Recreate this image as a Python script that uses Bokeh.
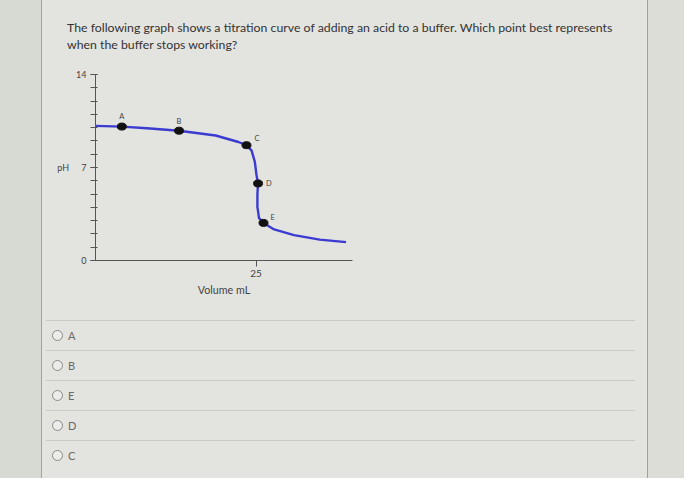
from bokeh.plotting import figure
from bokeh.models import Range1d, FixedTicker, Div
from bokeh.layouts import row, column
from bokeh.core.properties import value
from bokeh.embed import file_html
from bokeh.resources import INLINE

# ---- data ----
question_lines = [
    "The following graph shows a titration curve of adding an acid to a buffer. Which point best represents",
    "when the buffer stops working?",
]
curve_volume = [0.0, 4.1, 8.0, 13.0, 15.7, 18.7, 22.25, 23.5, 24.3, 24.8, 25.05, 25.3,
                25.2, 25.2, 25.45, 26.15, 27.8, 30.9, 34.9, 39.0]
curve_ph = [10.13, 10.08, 9.95, 9.77, 9.60, 9.41, 8.92, 8.68, 8.27, 7.42, 6.46, 5.80,
            5.0, 4.04, 3.19, 2.83, 2.34, 1.91, 1.57, 1.38]
point_names = ["A", "B", "C", "D", "E"]
point_volume = [4.1, 13.0, 23.5, 25.3, 26.15]
point_ph = [10.08, 9.77, 8.68, 5.80, 2.83]
y_major_ticks = [0, 7, 14]
y_minor_ticks = list(range(0, 15))
x_ticks = [25]
answer_options = ["A", "B", "E", "D", "C"]

# ---- styles ----
PANEL = "#e3e3e0"
SIDE = "#d7d9d3"
FONT = "Lato"
W, H = 684, 478
LEFT_W, RIGHT_W = 42, 37
MID_W = W - LEFT_W - RIGHT_W
HEADER_H, CHART_H = 60, 240
OPT_H = H - HEADER_H - CHART_H

left_strip = Div(text="", width=LEFT_W, height=H, margin=0,
                 styles={"background-color": SIDE, "border-right": "1px solid #a2a2a0",
                         "box-sizing": "border-box"})
right_strip = Div(text="", width=RIGHT_W, height=H, margin=0,
                  styles={"background-color": "#dcddd7", "border-left": "1px solid #a2a2a0",
                          "box-sizing": "border-box"})

header = Div(
    text=("<div style=\"padding:20px 0 0 25px; font-family:Lato; font-size:12.3px; "
          "line-height:16.5px; color:#333; white-space:nowrap;\">"
          + "<br>".join(question_lines) + "</div>"),
    width=MID_W, height=HEADER_H, margin=0,
    styles={"background-color": PANEL, "overflow": "hidden"})

# ---- titration chart ----
p = figure(width=MID_W, height=CHART_H, title=None, output_backend="svg", toolbar_location=None,
           x_range=Range1d(0, 40), y_range=Range1d(0, 14),
           min_border_left=53, min_border_right=MID_W - 53 - 257,
           min_border_top=14, min_border_bottom=CHART_H - 14 - 186)
p.background_fill_color = PANEL
p.border_fill_color = PANEL
p.outline_line_color = None
p.xgrid.visible = False
p.ygrid.visible = False

p.line(curve_volume, curve_ph, line_color="#3b3bd1", line_width=2.4)
p.ellipse(point_volume, point_ph, width=9, height=7, width_units="screen",
          height_units="screen", color="#111111")

label_dx = [0, 0, 8, 8, 7]
label_dy = [-10, -9, -7, 0, -5]
label_align = ["center", "center", "left", "left", "left"]
p.text(x=point_volume, y=point_ph, text=point_names, x_offset=label_dx, y_offset=label_dy,
       text_align=label_align, text_baseline="middle", text_font=value(FONT),
       text_font_size="7.5px", text_color="#444444")

xa = p.xaxis[0]
xa.ticker = FixedTicker(ticks=x_ticks, minor_ticks=[])
xa.axis_label = "Volume mL"
xa.axis_label_text_font = FONT
xa.axis_label_text_font_style = "normal"
xa.axis_label_text_font_size = "10.7px"
xa.axis_label_text_color = "#444444"
xa.axis_label_standoff = 3
xa.major_label_text_font = FONT
xa.major_label_text_font_size = "10px"
xa.major_label_text_color = "#444444"
xa.major_label_standoff = 3
xa.major_tick_out = 6
xa.major_tick_in = 0
xa.axis_line_color = "#555555"
xa.major_tick_line_color = "#555555"

ya = p.yaxis[0]
ya.ticker = FixedTicker(ticks=y_major_ticks, minor_ticks=y_minor_ticks)
ya.axis_label = "pH"
ya.axis_label_orientation = "horizontal"
ya.axis_label_text_font = FONT
ya.axis_label_text_font_style = "normal"
ya.axis_label_text_font_size = "9px"
ya.axis_label_text_color = "#444444"
ya.axis_label_standoff = 4
ya.major_label_text_font = FONT
ya.major_label_text_font_size = "9px"
ya.major_label_text_color = "#444444"
ya.major_label_standoff = 4
ya.major_tick_out = 5
ya.major_tick_in = 2
ya.minor_tick_out = 5
ya.minor_tick_in = 2
ya.axis_line_color = "#555555"
ya.major_tick_line_color = "#555555"
ya.minor_tick_line_color = "#555555"

# ---- answer options ----
rows_html = []
for opt in answer_options:
    rows_html.append(
        "<div style=\"box-sizing:border-box; margin-left:4px; width:589px; height:30px; "
        "border-top:1px solid #c9c9c5; display:flex; align-items:center;\">"
        "<span style=\"box-sizing:border-box; display:inline-block; width:11px; height:11px; "
        "border:1.3px solid #8a8a8a; border-radius:50%; margin-left:6px; "
        "background:#ececea;\"></span>"
        "<span style=\"margin-left:5px; font-family:Lato; font-size:11px; color:#6a6a6a;\">"
        + opt + "</span></div>")
options_div = Div(
    text="<div style=\"padding-top:20px;\">" + "".join(rows_html) + "</div>",
    width=MID_W, height=OPT_H, margin=0,
    styles={"background-color": PANEL, "overflow": "hidden"})

layout = row(left_strip,
             column(header, p, options_div, spacing=0, margin=0,
                    styles={"background-color": PANEL}),
             right_strip, spacing=0, margin=0)

open("out.html", "w").write(file_html(layout, INLINE))
